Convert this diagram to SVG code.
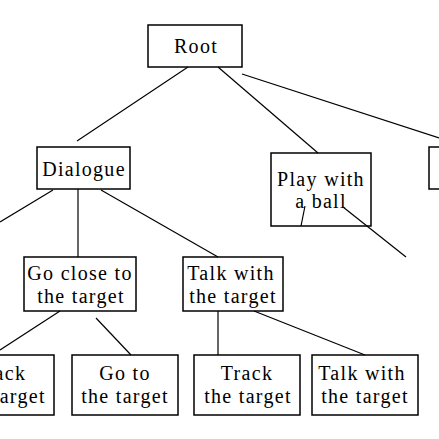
<svg xmlns="http://www.w3.org/2000/svg" width="439" height="439" viewBox="0 0 439 439">
<style>
.box{fill:#fff;stroke:#000;stroke-width:1.5}
.edge{stroke:#000;stroke-width:1.2;fill:none}
text{font-family:"Liberation Serif","Times New Roman",serif;font-size:20px;letter-spacing:1.3px;text-anchor:middle;fill:#000}
</style>
<rect width="439" height="439" fill="#fff"/>
<g id="root"><rect class="box" x="148" y="25" width="94" height="42"/><text x="196" y="53">Root</text></g>
<g id="dialogue"><rect class="box" x="37" y="147" width="93" height="42"/><text x="84" y="176">Dialogue</text></g>
<g id="play"><rect class="box" x="271" y="153" width="100" height="73"/><text x="321" y="186">Play with</text><text x="321" y="208">a ball</text></g>
<g id="right"><rect class="box" x="429" y="147" width="30" height="42"/></g>
<g id="goclose"><rect class="box" x="24" y="257" width="112" height="54"/><text x="80" y="280">Go close to</text><text x="81" y="303">the target</text></g>
<g id="talk1"><rect class="box" x="183" y="257" width="100" height="54"/><text x="231" y="280">Talk with</text><text x="233" y="303">the target</text></g>
<g id="track1"><rect class="box" x="-52" y="355" width="106" height="60"/><text x="0" y="380">Track</text><text x="2" y="403">the target</text></g>
<g id="goto"><rect class="box" x="72" y="355" width="106" height="60"/><text x="125" y="380">Go to</text><text x="125" y="403">the target</text></g>
<g id="track2"><rect class="box" x="194" y="355" width="106" height="60"/><text x="247" y="380">Track</text><text x="248" y="403">the target</text></g>
<g id="talk2"><rect class="box" x="312" y="355" width="106" height="60"/><text x="362" y="380">Talk with</text><text x="365" y="403">the target</text></g>
<g id="connectors">
<line class="edge" x1="188" y1="67" x2="77" y2="141"/>
<line class="edge" x1="218" y1="67" x2="318" y2="153"/>
<line class="edge" x1="242" y1="74" x2="439" y2="138"/>
<line class="edge" x1="53" y1="190" x2="0" y2="222"/>
<line class="edge" x1="78" y1="189" x2="78" y2="257"/>
<line class="edge" x1="101" y1="190" x2="218" y2="257"/>
<line class="edge" x1="60" y1="311" x2="0" y2="350"/>
<line class="edge" x1="96" y1="318" x2="131" y2="355"/>
<line class="edge" x1="218" y1="311" x2="218" y2="355"/>
<line class="edge" x1="254" y1="311" x2="365" y2="355"/>
<line class="edge" x1="305" y1="206" x2="301" y2="226"/>
<line class="edge" x1="343" y1="207" x2="406" y2="257"/>
</g>
</svg>
